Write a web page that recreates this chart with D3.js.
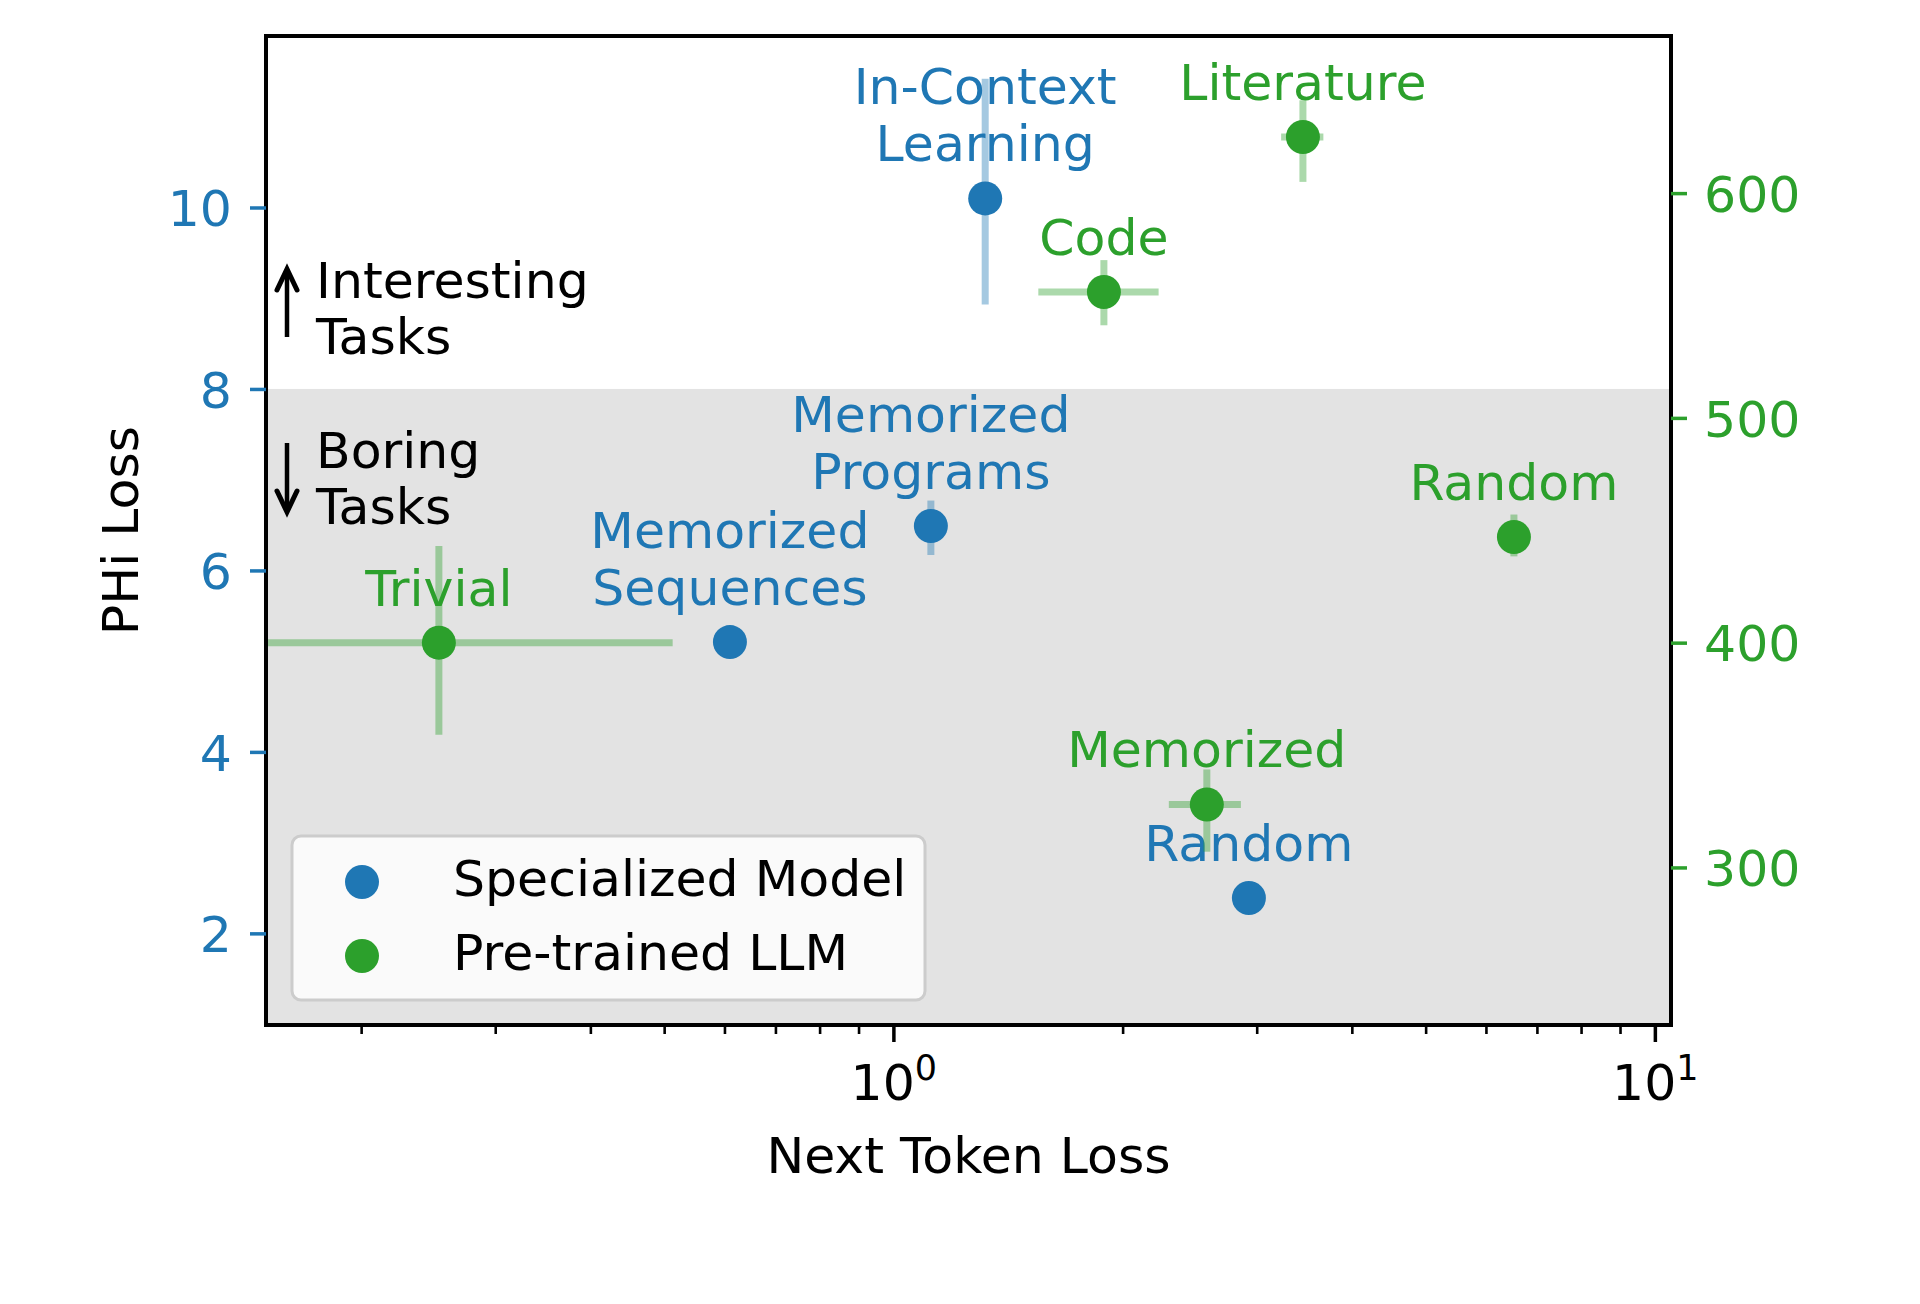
<!DOCTYPE html>
<html>
  <head>
    <meta charset="utf-8">
    <title>PHi Loss vs Next Token Loss</title>
    <script src="https://cdnjs.cloudflare.com/ajax/libs/d3/7.8.5/d3.min.js"></script>
    <style>
      body { margin: 0; background: #fff; }
      text { font-family: "DejaVu Sans", sans-serif; }
    </style>
  </head>
  <body>
    <script>
      // Specialized model (left axis, PHi loss)
      var specNames = ["In-Context\nLearning", "Memorized\nPrograms", "Memorized\nSequences", "Random"];
      var specTok   = [1.32, 1.12, 0.61, 2.93];
      var specPhi   = [10.1, 6.49, 5.21, 2.39];
      var specPhiLo = [1.17, 0.32, 0.1, 0.1];
      var specPhiHi = [1.32, 0.28, 0.1, 0.1];

      // Pre-trained LLM (right axis)
      var llmNames  = ["Literature", "Code", "Random", "Memorized", "Trivial"];
      var llmTok    = [3.45, 1.89, 6.53, 2.58, 0.253];
      var llmTokErr = [0.22, 0.34, 0.15, 0.28, 0.26];
      var llmPhi    = [625, 556, 447, 328, 400];
      var llmPhiLo  = [20, 14.8, 8.6, 21, 41];
      var llmPhiHi  = [16.3, 14.2, 10, 15.6, 43];

      var leftTicks  = [2, 4, 6, 8, 10];
      var rightTicks = [300, 400, 500, 600];
      var xMajor = [1, 10];
      var xMinor = [0.2, 0.3, 0.4, 0.5, 0.6, 0.7, 0.8, 0.9, 2, 3, 4, 5, 6, 7, 8, 9];
      var boundary = 8;

      var blue = "#1f77b4", green = "#2ca02c";
      var W = 1920, H = 1304;
      var L = 266, R = 1671, T = 36, B = 1025;
      var FS = 50.5;

      var svg = d3.select("body").append("svg")
        .attr("width", W)
        .attr("height", H);
      svg.append("rect").attr("width", W).attr("height", H).attr("fill", "#fff");

      var x  = d3.scaleLog().domain([0.15, 10.5]).range([L, R]);
      var yL = d3.scaleLinear().domain([0.99, 11.89]).range([B, T]);
      var yR = d3.scaleLinear().domain([229.9, 669.9]).range([B, T]);

      var defs = svg.append("defs");
      defs.append("clipPath").attr("id", "clip")
        .append("rect").attr("x", L).attr("y", T).attr("width", R - L).attr("height", B - T);

      var plot = svg.append("g").attr("clip-path", "url(#clip)");

      // boring region
      plot.append("rect")
        .attr("x", L).attr("width", R - L)
        .attr("y", yL(boundary)).attr("height", B - yL(boundary))
        .attr("fill", "#e3e3e3");

      function clampX(v) { return v <= 0 ? L - 10 : x(v); }

      function drawSeries(tok, phi, lo, hi, xe, names, ys, color) {
        var data = tok.map(function (t, i) {
          return { t: t, p: phi[i], lo: lo[i], hi: hi[i], xe: xe ? xe[i] : 0, name: names[i] };
        });
        var g = plot.append("g");
        // error bars
        g.selectAll(".ey").data(data).enter().append("line")
          .attr("x1", function (d) { return x(d.t); })
          .attr("x2", function (d) { return x(d.t); })
          .attr("y1", function (d) { return ys(d.p - d.lo); })
          .attr("y2", function (d) { return ys(d.p + d.hi); })
          .attr("stroke", color).attr("stroke-opacity", 0.4).attr("stroke-width", 7);
        g.selectAll(".ex").data(data.filter(function (d) { return d.xe > 0; })).enter().append("line")
          .attr("x1", function (d) { return clampX(d.t - d.xe); })
          .attr("x2", function (d) { return x(d.t + d.xe); })
          .attr("y1", function (d) { return ys(d.p); })
          .attr("y2", function (d) { return ys(d.p); })
          .attr("stroke", color).attr("stroke-opacity", 0.4).attr("stroke-width", 7);
        // markers
        g.selectAll("circle").data(data).enter().append("circle")
          .attr("cx", function (d) { return x(d.t); })
          .attr("cy", function (d) { return ys(d.p); })
          .attr("r", 17)
          .attr("fill", color);
        // labels
        g.selectAll(".lab").data(data).enter().append("text")
          .attr("text-anchor", "middle")
          .attr("font-size", FS)
          .attr("fill", color)
          .each(function (d) {
            var lines = d.name.split("\n");
            var base = ys(d.p) - 37;
            var t = d3.select(this);
            lines.forEach(function (ln, k) {
              t.append("tspan")
                .attr("x", x(d.t))
                .attr("y", base - (lines.length - 1 - k) * 57)
                .text(ln);
            });
          });
      }

      drawSeries(specTok, specPhi, specPhiLo, specPhiHi, null, specNames, yL, blue);
      drawSeries(llmTok, llmPhi, llmPhiLo, llmPhiHi, llmTokErr, llmNames, yR, green);

      // interesting / boring annotations
      var ann = svg.append("g");
      function arrow(x0, yFrom, yTo) {
        var dir = yTo < yFrom ? 1 : -1;
        ann.append("line").attr("x1", x0).attr("x2", x0).attr("y1", yFrom).attr("y2", yTo + dir * 2)
          .attr("stroke", "#000").attr("stroke-width", 4.5);
        ann.append("path")
          .attr("d", "M" + (x0 - 10) + "," + (yTo + dir * 21) + "L" + x0 + "," + yTo + "L" + (x0 + 10) + "," + (yTo + dir * 21))
          .attr("fill", "none").attr("stroke", "#000").attr("stroke-width", 5)
          .attr("stroke-linecap", "round")
          .attr("stroke-linejoin", "miter");
      }
      arrow(287, 337, 269);
      arrow(287, 443, 512);
      function block(lines, y0) {
        var t = ann.append("text").attr("font-size", FS).attr("fill", "#000");
        lines.forEach(function (ln, k) {
          t.append("tspan").attr("x", 316).attr("y", y0 + k * 56).text(ln);
        });
      }
      block(["Interesting", "Tasks"], 298);
      block(["Boring", "Tasks"], 468);

      // frame
      svg.append("rect")
        .attr("x", L).attr("y", T).attr("width", R - L).attr("height", B - T)
        .attr("fill", "none").attr("stroke", "#000").attr("stroke-width", 4);

      function styleAxis(g, color, width) {
        g.select(".domain").remove();
        g.selectAll(".tick line").attr("stroke", color).attr("stroke-width", width);
        g.selectAll(".tick text").attr("fill", color).attr("font-size", FS)
          .attr("font-family", "DejaVu Sans, sans-serif");
        g.attr("font-family", null).attr("font-size", null);
      }

      // left axis
      var gl = svg.append("g").attr("transform", "translate(" + L + ",0)")
        .call(d3.axisLeft(yL).tickValues(leftTicks).tickSize(16).tickPadding(18));
      styleAxis(gl, blue, 3.5);
      gl.selectAll(".tick text").attr("dy", "0.36em");

      // right axis
      var gr = svg.append("g").attr("transform", "translate(" + R + ",0)")
        .call(d3.axisRight(yR).tickValues(rightTicks).tickSize(16).tickPadding(17));
      styleAxis(gr, green, 3.5);
      gr.selectAll(".tick text").attr("dy", "0.36em");

      // bottom axis, minor then major
      var gm = svg.append("g").attr("transform", "translate(0," + B + ")")
        .call(d3.axisBottom(x).tickValues(xMinor).tickSize(9).tickFormat(""));
      styleAxis(gm, "#000", 2.6);
      var gx = svg.append("g").attr("transform", "translate(0," + B + ")")
        .call(d3.axisBottom(x).tickValues(xMajor).tickSize(17).tickPadding(20));
      styleAxis(gx, "#000", 3.5);
      gx.selectAll(".tick text")
        .attr("dy", null)
        .attr("y", 75)
        .each(function (d) {
          var t = d3.select(this).text(null);
          t.append("tspan").text("10");
          t.append("tspan").attr("font-size", 35).attr("dy", -20).text(Math.round(Math.log10(d)));
        })
        .attr("dx", 0);

      // axis titles
      svg.append("text")
        .attr("x", (L + R) / 2).attr("y", 1173)
        .attr("text-anchor", "middle").attr("font-size", FS).attr("fill", "#000")
        .text("Next Token Loss");
      svg.append("text")
        .attr("transform", "translate(138," + (T + B) / 2 + ") rotate(-90)")
        .attr("text-anchor", "middle").attr("font-size", FS).attr("fill", "#000")
        .text("PHi Loss");

      // legend
      var lg = svg.append("g");
      lg.append("rect")
        .attr("x", 292).attr("y", 836).attr("width", 633).attr("height", 164)
        .attr("rx", 9).attr("fill", "#fff").attr("fill-opacity", 0.8)
        .attr("stroke", "#cccccc").attr("stroke-width", 3);
      var legendItems = [["Specialized Model", blue], ["Pre-trained LLM", green]];
      legendItems.forEach(function (it, i) {
        var cy = 882 + i * 74;
        lg.append("circle").attr("cx", 362).attr("cy", cy).attr("r", 17).attr("fill", it[1]);
        lg.append("text").attr("x", 453).attr("y", cy + 14)
          .attr("font-size", FS).attr("fill", "#000").text(it[0]);
      });
    </script>
  </body>
</html>
